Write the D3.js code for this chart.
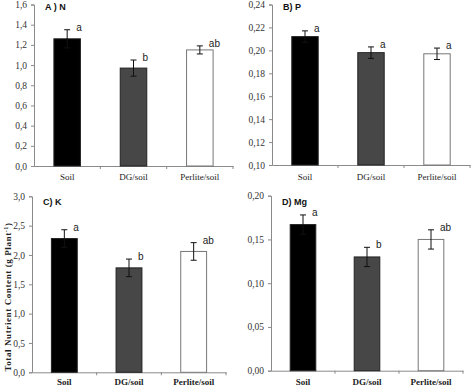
<!DOCTYPE html>
<html><head><meta charset="utf-8">
<script src="https://cdn.jsdelivr.net/npm/d3@7"></script>
<style>body{margin:0;background:#fff}svg{display:block}</style>
</head><body>
<svg id="chart" width="474" height="386"></svg>
<script>
const categories = ["Soil", "DG/soil", "Perlite/soil"];
const barColors = ["#000000", "#474747", "#ffffff"];

const nValues = [1.26, 0.97, 1.15];
const nErrors = [0.09, 0.08, 0.04];
const nLetters = ["a", "b", "ab"];
const nTicks = [0, 0.2, 0.4, 0.6, 0.8, 1.0, 1.2, 1.4, 1.6];

const pValues = [0.212, 0.198, 0.197];
const pErrors = [0.005, 0.005, 0.005];
const pLetters = ["a", "a", "a"];
const pTicks = [0.10, 0.12, 0.14, 0.16, 0.18, 0.20, 0.22, 0.24];

const kValues = [2.28, 1.78, 2.06];
const kErrors = [0.15, 0.15, 0.15];
const kLetters = ["a", "b", "ab"];
const kTicks = [0, 0.5, 1.0, 1.5, 2.0, 2.5, 3.0];

const mgValues = [0.167, 0.130, 0.150];
const mgErrors = [0.011, 0.011, 0.011];
const mgLetters = ["a", "b", "ab"];
const mgTicks = [0, 0.05, 0.10, 0.15, 0.20];

const panels = [
  {title: "A ) N", values: nValues, errors: nErrors, letters: nLetters, ticks: nTicks, dec: 1,
   x0: 34, x1: 233, y0: 166, y1: 4.5, labelBold: false, labelY: 180, tx: 45, ty: 10},
  {title: "B) P", values: pValues, errors: pErrors, letters: pLetters, ticks: pTicks, dec: 2,
   x0: 272, x1: 470, y0: 165, y1: 4.5, labelBold: false, labelY: 180, tx: 283, ty: 10},
  {title: "C) K", values: kValues, errors: kErrors, letters: kLetters, ticks: kTicks, dec: 1,
   x0: 32, x1: 226, y0: 372.3, y1: 196.3, labelBold: true, labelY: 385, tx: 43, ty: 205},
  {title: "D) Mg", values: mgValues, errors: mgErrors, letters: mgLetters, ticks: mgTicks, dec: 2,
   x0: 271, x1: 463, y0: 370.7, y1: 195.7, labelBold: true, labelY: 385, tx: 282, ty: 205}
];

const svg = d3.select("#chart");
const axisColor = "#8a8a8a";

panels.forEach(p => {
  const g = svg.append("g");
  const x = d3.scaleBand().domain(categories).range([p.x0, p.x1]).paddingInner(0.6).paddingOuter(0.3);
  const xb = d3.scaleBand().domain(categories).range([p.x0, p.x1]);
  const y = d3.scaleLinear().domain([p.ticks[0], p.ticks[p.ticks.length - 1]]).range([p.y0, p.y1]);
  const fmt = v => d3.format("." + p.dec + "f")(v).replace(".", ",");

  const ya = g.append("g").attr("transform", `translate(${p.x0},0)`)
    .call(d3.axisLeft(y).tickValues(p.ticks).tickFormat(fmt).tickSize(3).tickPadding(4));
  ya.select(".domain").attr("stroke", axisColor);
  ya.selectAll(".tick line").attr("stroke", axisColor);
  ya.selectAll(".tick text").attr("font-family", "Liberation Serif").attr("font-size", 9.5).attr("fill", "#333");

  const xa = g.append("g").attr("transform", `translate(0,${p.y0})`)
    .call(d3.axisBottom(xb).tickSize(0).tickFormat(""));
  xa.select(".domain").attr("stroke", axisColor);
  const bounds = categories.map(c => xb(c) + xb.bandwidth());
  g.selectAll("line.xt").data(bounds).enter().append("line")
    .attr("x1", d => d).attr("x2", d => d).attr("y1", p.y0).attr("y2", p.y0 + 3)
    .attr("stroke", axisColor);
  g.selectAll("text.xl").data(categories).enter().append("text")
    .attr("x", d => xb(d) + xb.bandwidth() / 2).attr("y", p.labelY)
    .attr("text-anchor", "middle").attr("font-family", "Liberation Serif")
    .attr("font-size", 9).attr("font-weight", p.labelBold ? "bold" : "normal").attr("fill", "#222")
    .text(d => d);

  g.selectAll("rect.bar").data(categories).enter().append("rect")
    .attr("x", d => x(d)).attr("width", x.bandwidth())
    .attr("y", (d, i) => y(p.values[i])).attr("height", (d, i) => p.y0 - y(p.values[i]))
    .attr("fill", (d, i) => barColors[i])
    .attr("stroke", (d, i) => i === 2 ? "#777" : "#222").attr("stroke-width", 1);

  categories.forEach((c, i) => {
    const cx = x(c) + x.bandwidth() / 2;
    const top = y(p.values[i] + p.errors[i]);
    const bot = y(p.values[i] - p.errors[i]);
    g.append("line").attr("x1", cx).attr("x2", cx).attr("y1", top).attr("y2", bot).attr("stroke", "#111").attr("stroke-width", 1);
    g.append("line").attr("x1", cx - 3).attr("x2", cx + 3).attr("y1", top).attr("y2", top).attr("stroke", "#111");
    g.append("line").attr("x1", cx - 3).attr("x2", cx + 3).attr("y1", bot).attr("y2", bot).attr("stroke", "#111");
    g.append("text").attr("x", cx + 9).attr("y", top + 1)
      .attr("font-family", "Liberation Sans").attr("font-size", 10).attr("fill", "#222")
      .text(p.letters[i]);
  });

  g.append("text").attr("x", p.tx).attr("y", p.ty)
    .attr("font-family", "Liberation Sans").attr("font-weight", "bold").attr("font-size", 9).attr("fill", "#111")
    .text(p.title);
});

svg.append("text")
  .attr("transform", "translate(11,297) rotate(-90)")
  .attr("text-anchor", "middle").attr("font-family", "Liberation Serif")
  .attr("font-weight", "bold").attr("font-size", 9).attr("letter-spacing", 0.6).attr("fill", "#222")
  .text("Total Nutrient Content (g Plant")
  .append("tspan").attr("dy", -3).attr("font-size", 6).text("-1")
  .select(function(){ return this.parentNode; })
  .append("tspan").attr("dy", 3).text(")");
</script>
</body></html>
